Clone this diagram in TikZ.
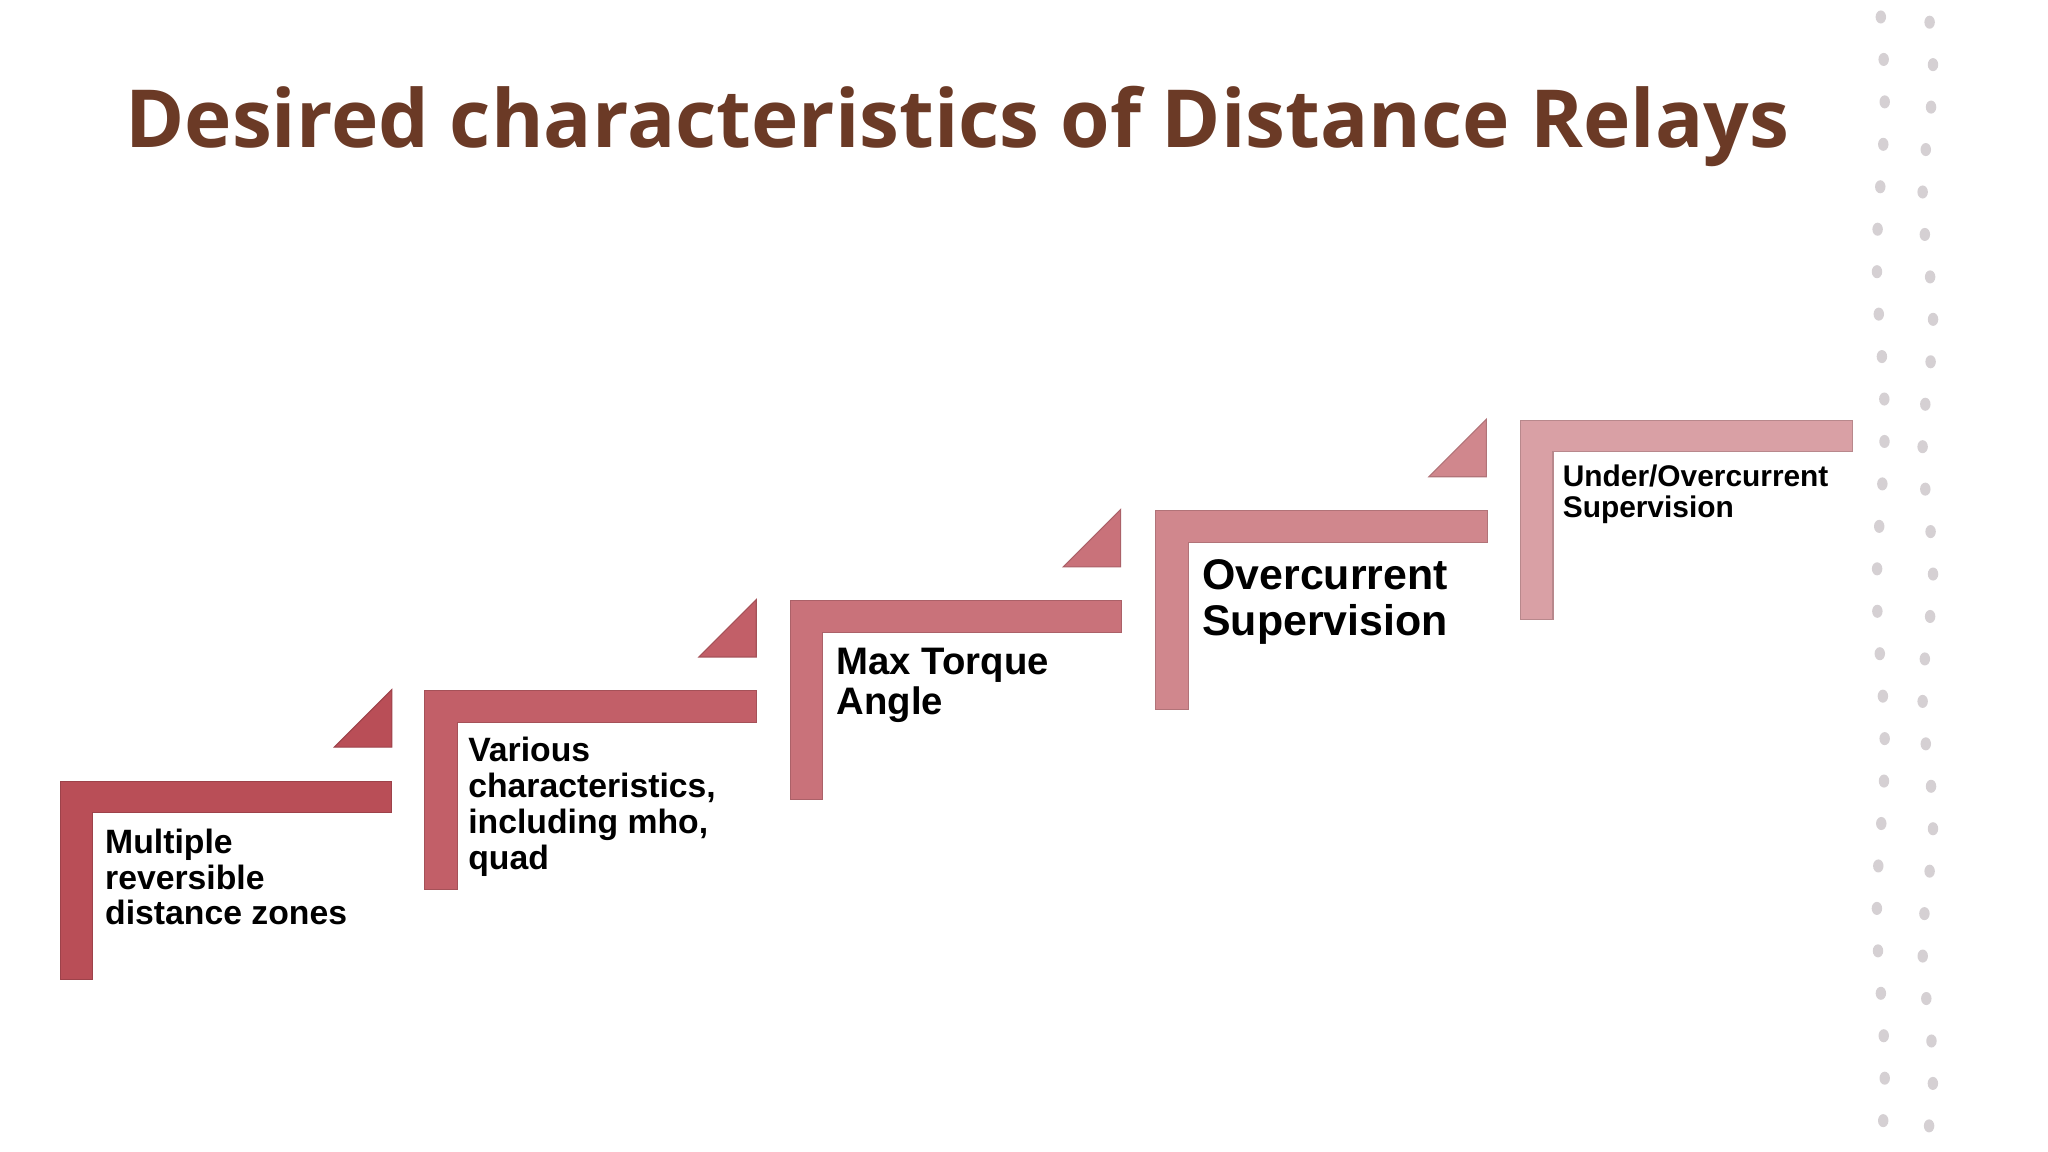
\documentclass[tikz,border=0pt]{standalone}
\usepackage{fontspec}
\setmainfont{Liberation Sans}
\newfontfamily\titlefont{Open Sans}
\definecolor{titlebrown}{HTML}{6B3A26}
\definecolor{cA}{HTML}{B94E57}
\definecolor{cB}{HTML}{C25F68}
\definecolor{cC}{HTML}{C9727A}
\definecolor{cD}{HTML}{D0878D}
\definecolor{cE}{HTML}{D9A0A5}
\definecolor{dotgrey}{HTML}{D5D0D3}
\begin{document}
\begin{tikzpicture}[x=0.013061cm,y=-0.013061cm,
  steptext/.style={anchor=north west,align=left,inner sep=0pt,font=\bfseries}]
\useasboundingbox[fill=white] (0,0) rectangle (1568,882);
\node[font=\titlefont\bfseries\fontsize{22.8}{26}\selectfont,text=titlebrown] (title) at (733,97) {Desired characteristics of Distance Relays};
\foreach \x/\y/\c in {46/598/cA,325/529/cB,605/460/cC,885/391/cD,1164/322/cE}{
  \fill[\c,draw=\c!85!black,line width=0.3pt] (\x,\y) -- ++(254,0) -- ++(0,24) -- ++(-229,0) -- ++(0,128) -- ++(-25,0) -- cycle;
}
\foreach \x/\y/\c in {300/572/cA,579/503/cB,858/434/cC,1138/365/cD}{
  \fill[\c,draw=\c!85!black,line width=0.3pt] (\x,\y) -- ++(-44,0) -- ++(44,-44) -- cycle;
}
\node[steptext,font=\bfseries\fontsize{9.6}{10.2}\selectfont] (t1) at (80,634) {Multiple\\reversible\\distance zones};
\node[steptext,font=\bfseries\fontsize{9.6}{10.2}\selectfont] (t2) at (358,564) {Various\\characteristics,\\including mho,\\quad};
\node[steptext,font=\bfseries\fontsize{10.9}{11.2}\selectfont] (t3) at (640,496) {Max Torque\\Angle};
\node[steptext,font=\bfseries\fontsize{12.2}{12.9}\selectfont] (t4) at (920,428) {Overcurrent\\Supervision};
\node[steptext,font=\bfseries\fontsize{8.5}{9}\selectfont] (t5) at (1196,355) {Under/Overcurrent\\Supervision};
\foreach \i in {0,...,26}{
  \pgfmathsetmacro{\ya}{13+32.5*\i}
  \pgfmathsetmacro{\xa}{1440+3*sin(\i*47)}
  \pgfmathsetmacro{\xb}{1476+4*sin(\i*61+20)}
  \fill[dotgrey] (\xa,\ya) ellipse (4 and 5);
  \fill[dotgrey] (\xb,\ya+4) ellipse (4 and 5);
}
\end{tikzpicture}
\end{document}
